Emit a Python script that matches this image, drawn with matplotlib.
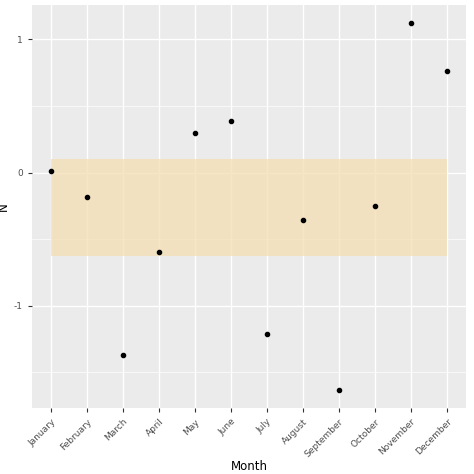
import matplotlib
matplotlib.use("Agg")
import matplotlib.pyplot as plt
import numpy as np

months = ["January","February","March","April","May","June","July","August",
          "September","October","November","December"]
values = [0.015,-0.185,-1.37,-0.60,0.30,0.39,-1.21,-0.36,-1.63,-0.25,1.12,0.76]
band_low, band_high = -0.63, 0.10

fig = plt.figure(figsize=(4.74,4.74), dpi=100)
ax = fig.add_axes([32/474, 66/474, 434/474, 403/474])
ax.set_facecolor("#EBEBEB")
x = np.arange(1, len(months)+1)
ax.fill_between([1,12],[band_low]*2,[band_high]*2,color="#F5DEB3",alpha=0.75,lw=0,zorder=2)
ax.scatter(x, values, s=9, color="black", zorder=3)
ax.set_xlim(0.47, 12.53)
ax.set_ylim(-1.767, 1.257)
ax.set_yticks([-1,0,1])
ax.set_yticklabels(["-1","0","1"])
ax.set_yticks([-1.5,-0.5,0.5], minor=True)
ax.set_xticks(x)
ax.set_xticklabels(months, rotation=45, ha="right", rotation_mode="anchor")
ax.grid(which="major", color="white", lw=1.0, zorder=0)
ax.grid(which="minor", axis="y", color="white", lw=0.5, zorder=0)
ax.set_axisbelow(True)
for s in ax.spines.values(): s.set_visible(False)
ax.tick_params(which="both", colors="#333333", labelsize=6.5, length=3)
ax.tick_params(which="minor", length=0)
ax.tick_params(axis="both", labelcolor="#4D4D4D")
ax.set_xlabel("Month", fontsize=8.5)
ax.set_ylabel("N", fontsize=8.5)
ax.xaxis.set_label_coords((249-32)/434, -(460-408)/403)
ax.yaxis.set_label_coords(-(32-10)/434, 0.5)
fig.savefig("out.png", dpi=100)
